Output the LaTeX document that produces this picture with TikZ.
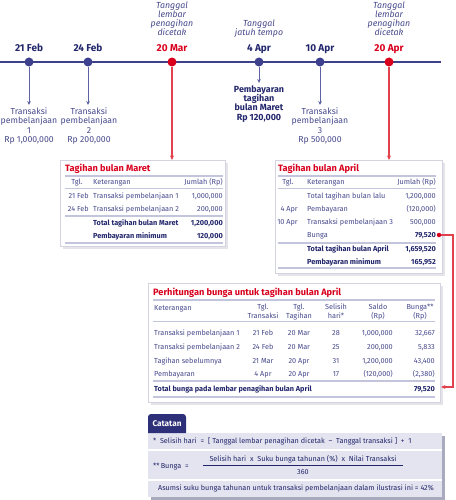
\documentclass[tikz,border=0pt]{standalone}
\usepackage{fontspec}
\setmainfont{Fira Sans}
\usetikzlibrary{arrows.meta,calc}
\definecolor{navy}{HTML}{22266B}
\definecolor{navyl}{HTML}{474A8C}
\definecolor{tlc}{HTML}{3D408C}
\definecolor{arrc}{HTML}{5F62A2}
\definecolor{redc}{HTML}{D9001E}
\definecolor{redl}{HTML}{E2414E}
\definecolor{rulec}{HTML}{C3C5DC}
\definecolor{boxb}{HTML}{D3D4E0}
\definecolor{shad}{HTML}{E4E4EA}
\definecolor{notec}{HTML}{E3E4EF}
\definecolor{notesh}{HTML}{A9AABD}
\definecolor{tabc}{HTML}{2D3079}
\begin{document}
\begin{tikzpicture}[x=1pt,y=-1pt,
  tx/.style={font=\fontsize{7.3}{8}\selectfont, text=navyl, inner sep=0pt},
  tb/.style={font=\fontsize{7.3}{8}\selectfont\bfseries, text=navy, inner sep=0pt},
  ttl/.style={font=\fontsize{9.2}{10}\selectfont\bfseries, text=redc, inner sep=0pt},
  datel/.style={font=\fontsize{10}{11}\selectfont\bfseries, text=navy, inner sep=0pt},
  itl/.style={font=\fontsize{8.8}{9}\selectfont\itshape, text=navyl, inner sep=0pt, align=center},
  evt/.style={font=\fontsize{8.7}{9.5}\selectfont, text=navyl, inner sep=1.5pt, align=center},
  evtb/.style={font=\fontsize{8.9}{9.2}\selectfont\bfseries, text=navy, inner sep=1.5pt, align=center},
  dotn/.style={circle, fill=tlc, inner sep=0pt, minimum size=9pt},
  dotr/.style={circle, fill=redc, inner sep=0pt, minimum size=9pt},
  arr/.style={draw=arrc, line width=0.9pt, -{Stealth[length=4pt,width=3.6pt]}},
  rarr/.style={draw=redl, line width=1.1pt, -{Stealth[length=4.5pt,width=4pt]}},
  thinr/.style={draw=rulec, line width=0.6pt},
  thickr/.style={draw=rulec, line width=1.3pt},
  boxn/.style={draw=boxb, fill=white, line width=0.8pt, inner sep=0pt, anchor=north west},
  nt/.style={font=\fontsize{7.25}{8}\selectfont, text=navy, inner sep=0pt},
  hd/.style={tx, anchor=north, align=center, font=\fontsize{7.3}{8.8}\selectfont},
]
\useasboundingbox (0,0) rectangle (455,500);

% ---------------- timeline ----------------
\draw[tlc, line width=1.5pt] (0,62) -- (441,62);
\node[dotn] (d1) at (29,62) {};
\node[dotn] (d2) at (88,62) {};
\node[dotr] (d3) at (172,62) {};
\node[dotn] (d4) at (259,62) {};
\node[dotn] (d5) at (320,62) {};
\node[dotr] (d6) at (389,62) {};

\node[datel, anchor=mid] (l1) at (29,49) {21 Feb};
\node[datel, anchor=mid] (l2) at (88,49) {24 Feb};
\node[datel, anchor=mid, text=redc] (l3) at (172,49) {20 Mar};
\node[datel, anchor=mid] (l4) at (259,49) {4 Apr};
\node[datel, anchor=mid] (l5) at (320,49) {10 Apr};
\node[datel, anchor=mid, text=redc] (l6) at (389,49) {20 Apr};

\node[itl, anchor=north] (i3) at (172,2) {Tanggal\\lembar\\penagihan\\dicetak};
\node[itl, anchor=north] (i4) at (259,20) {Tanggal\\jatuh tempo};
\node[itl, anchor=north] (i6) at (389,2) {Tanggal\\lembar\\penagihan\\dicetak};

\node[evt, anchor=north] (e1) at (29,106) {Transaksi\\pembelanjaan\\1\\Rp 1,000,000};
\node[evt, anchor=north] (e2) at (89,106) {Transaksi\\pembelanjaan\\2\\Rp 200,000};
\node[evtb, anchor=north] (e4) at (259,84) {Pembayaran\\tagihan\\bulan Maret\\Rp 120,000};
\node[evt, anchor=north] (e5) at (320,106) {Transaksi\\pembelanjaan\\3\\Rp 500,000};

\draw[arr, shorten >=1pt] (d1) -- (d1 |- e1.north);
\draw[arr, shorten >=1pt] (d2) -- (d2 |- e2.north);
\draw[arr, shorten >=1pt] (d4) -- (e4);
\draw[arr, shorten >=1pt] (d5) -- (e5);

% ---------------- Tagihan bulan Maret ----------------
\fill[shad] (63,163) rectangle (228,249);
\node[boxn, minimum width=165pt, minimum height=86pt] (mbox) at (60,160) {};
\draw[rarr] (d3) -- (d3 |- mbox.north);
\node[ttl, anchor=mid west] (mt) at (65,169) {Tagihan bulan Maret};
\draw[thickr] (65,176) -- (223,176);
\node[tx, anchor=mid] (mh1) at (77,182) {Tgl.};
\node[tx, anchor=mid west] (mh2) at (93,182) {Keterangan};
\node[tx, anchor=mid east] (mh3) at (223,182) {Jumlah (Rp)};
\draw[thinr] (65,188) -- (223,188);
\node[tx, anchor=mid east] (m1a) at (89,196) {21 Feb};
\node[tx, anchor=mid west] (m1b) at (93,196) {Transaksi pembelanjaan 1};
\node[tx, anchor=mid east] (m1c) at (223,196) {1,000,000};
\node[tx, anchor=mid east] (m2a) at (89,209) {24 Feb};
\node[tx, anchor=mid west] (m2b) at (93,209) {Transaksi pembelanjaan 2};
\node[tx, anchor=mid east] (m2c) at (223,209) {200,000};
\draw[thickr] (65,216) -- (223,216);
\node[tb, anchor=mid west] (m3b) at (93,223) {Total tagihan bulan Maret};
\node[tb, anchor=mid east] (m3c) at (223,223) {1,200,000};
\node[tb, anchor=mid west] (m4b) at (93,236) {Pembayaran minimum};
\node[tb, anchor=mid east] (m4c) at (223,236) {120,000};
\draw[thickr] (65,243) -- (223,243);

% ---------------- Tagihan bulan April ----------------
\fill[shad] (278,163) rectangle (445,276);
\node[boxn, minimum width=167pt, minimum height=113pt] (abox) at (275,160) {};
\draw[rarr] (d6) -- (d6 |- abox.north);
\node[ttl, anchor=mid west] (at) at (278,169) {Tagihan bulan April};
\draw[thickr] (278,176) -- (436,176);
\node[tx, anchor=mid] (ah1) at (288,182) {Tgl.};
\node[tx, anchor=mid west] (ah2) at (307,182) {Keterangan};
\node[tx, anchor=mid east] (ah3) at (436,182) {Jumlah (Rp)};
\draw[thinr] (278,188) -- (436,188);
\node[tx, anchor=mid west] (a1b) at (307,196) {Total tagihan bulan lalu};
\node[tx, anchor=mid east] (a1c) at (436,196) {1,200,000};
\node[tx, anchor=mid east] (a2a) at (298,209) {4 Apr};
\node[tx, anchor=mid west] (a2b) at (307,209) {Pembayaran};
\node[tx, anchor=mid east] (a2c) at (436,209) {(120,000)};
\node[tx, anchor=mid east] (a3a) at (298,222) {10 Apr};
\node[tx, anchor=mid west] (a3b) at (307,222) {Transaksi pembelanjaan 3};
\node[tx, anchor=mid east] (a3c) at (436,222) {500,000};
\node[tx, anchor=mid west] (a4b) at (307,235) {Bunga};
\node[tb, anchor=mid east] (a4c) at (436,235) {79,520};
\draw[thickr] (278,243) -- (436,243);
\node[tb, anchor=mid west] (a5b) at (307,249) {Total tagihan bulan April};
\node[tb, anchor=mid east] (a5c) at (436,249) {1,659,520};
\node[tb, anchor=mid west] (a6b) at (307,262) {Pembayaran minimum};
\node[tb, anchor=mid east] (a6c) at (436,262) {165,952};
\draw[thickr] (278,268) -- (436,268);

% ---------------- Perhitungan bunga ----------------
\fill[shad] (151,286) rectangle (443,405);
\node[boxn, minimum width=292pt, minimum height=119pt] (pbox) at (148,283) {};
\node[ttl, anchor=mid west] (pt) at (153,293) {Perhitungan bunga untuk tagihan bulan April};
\draw[thickr] (153,300) -- (435,300);
\node[tx, anchor=mid west] (ph1) at (154,307.5) {Keterangan};
\node[hd] (ph2) at (263,304) {Tgl.\\Transaksi};
\node[hd] (ph3) at (299,304) {Tgl.\\Tagihan};
\node[hd] (ph4) at (336,304) {Selisih\\hari*};
\node[hd] (ph5) at (378,304) {Saldo\\(Rp)};
\node[hd] (ph6) at (420,304) {Bunga**\\(Rp)};
\draw[thinr] (153,321) -- (435,321);
% rows
\node[tx, anchor=mid west] (p1a) at (154,333) {Transaksi pembelanjaan 1};
\node[tx, anchor=mid] (p1b) at (263,333) {21 Feb};
\node[tx, anchor=mid] (p1c) at (299,333) {20 Mar};
\node[tx, anchor=mid] (p1d) at (336,333) {28};
\node[tx, anchor=mid east] (p1e) at (393,333) {1,000,000};
\node[tx, anchor=mid east] (p1f) at (435,333) {32,667};
\node[tx, anchor=mid west] (p2a) at (154,347) {Transaksi pembelanjaan 2};
\node[tx, anchor=mid] (p2b) at (263,347) {24 Feb};
\node[tx, anchor=mid] (p2c) at (299,347) {20 Mar};
\node[tx, anchor=mid] (p2d) at (336,347) {25};
\node[tx, anchor=mid east] (p2e) at (393,347) {200,000};
\node[tx, anchor=mid east] (p2f) at (435,347) {5,833};
\node[tx, anchor=mid west] (p3a) at (154,361) {Tagihan sebelumnya};
\node[tx, anchor=mid] (p3b) at (263,361) {21 Mar};
\node[tx, anchor=mid] (p3c) at (299,361) {20 Apr};
\node[tx, anchor=mid] (p3d) at (336,361) {31};
\node[tx, anchor=mid east] (p3e) at (393,361) {1,200,000};
\node[tx, anchor=mid east] (p3f) at (435,361) {43,400};
\node[tx, anchor=mid west] (p4a) at (154,374) {Pembayaran};
\node[tx, anchor=mid] (p4b) at (263,374) {4 Apr};
\node[tx, anchor=mid] (p4c) at (299,374) {20 Apr};
\node[tx, anchor=mid] (p4d) at (336,374) {17};
\node[tx, anchor=mid east] (p4e) at (393,374) {(120,000)};
\node[tx, anchor=mid east] (p4f) at (435,374) {(2,380)};
\draw[thickr] (153,381) -- (435,381);
\node[tb, anchor=mid west] (p5a) at (154,389) {Total bunga pada lembar penagihan bulan April};
\node[tb, anchor=mid east] (p5f) at (435,389) {79,520};
\draw[thickr] (153,397) -- (435,397);

% red connector from April interest to the total
\node[circle, fill=redc, inner sep=0pt, minimum size=4.5pt] (rd) at (439,235) {};
\coordinate (rc1) at (453,235);
\coordinate (rc2) at (453,387);
\coordinate (rin) at (441,387);
\draw[rarr] (rd) -- (rc1) -- (rc2) -- (rin);

% ---------------- Catatan ----------------
\fill[notesh] (151,436) rectangle (445,500);
\fill[notec] (148,433) rectangle (442,497);
\fill[tabc] (148,433) [rounded corners=3pt]-- (148,414) -- (186,414) [sharp corners]-- (186,433) -- cycle;
\node[font=\fontsize{8.2}{9}\selectfont\bfseries, text=white, inner sep=0pt, anchor=mid] (ct) at (167,424) {Catatan};
\node[nt, anchor=mid west] (c1) at (153,441) {*\enspace Selisih hari \ = \ [ Tanggal lembar penagihan dicetak \ – \ Tanggal transaksi ] \ + \ 1};
\draw[white, line width=1.6pt] (148,450) -- (442,450);
\node[nt, anchor=mid west] (c2) at (153,465.5) {**\,Bunga \ =};
\node[nt, anchor=mid] (c3) at (303,458.5) {Selisih hari \ x \ Suku bunga tahunan (\%) \ x \ Nilai Transaksi};
\draw[navy, line width=0.8pt] (203,465) -- (403,465);
\node[nt, anchor=mid] (c4) at (303,472) {360};
\draw[white, line width=1.6pt] (148,480) -- (442,480);
\node[nt, anchor=mid] (c5) at (296,488) {Asumsi suku bunga tahunan untuk transaksi pembelanjaan dalam ilustrasi ini = 42\%};
\end{tikzpicture}
\end{document}
